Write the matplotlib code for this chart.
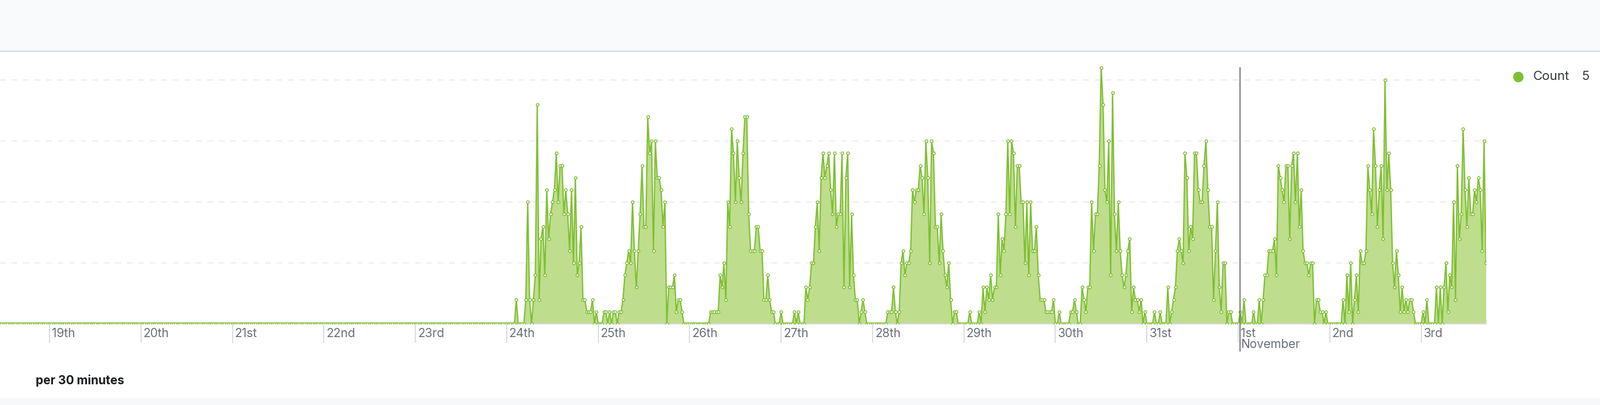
import datetime as dt
import matplotlib
matplotlib.use("Agg")
import matplotlib.pyplot as plt
import matplotlib.dates as mdates
import matplotlib.transforms as mtrans
from matplotlib.patches import Rectangle
from matplotlib.lines import Line2D

# ---- data (counts per 30 minutes) ----
start_time = dt.datetime(2023, 10, 18, 11, 0)
leading_zeros = [0] * 266
d24 = [0,0,0,0,0,2,0,0,0,0,2,10,2,0,2,4,18,2,7,8,4,11,7,9,10,11,14,10,13,13,9,11,9,6,11,5,12,4,5,8,2,2,1,1,1,2,0,1]
d25 = [0,0,0,1,1,0,1,0,1,1,0,1,1,2,4,5,6,5,10,6,3,6,9,13,8,8,17,14,15,6,15,12,12,11,8,10,0,3,3,3,4,1,2,2,1,0,0,0]
d26 = [0,0,0,0,0,0,0,0,0,0,0,1,1,1,1,1,4,3,5,2,10,8,16,14,10,15,12,10,14,17,17,9,6,6,6,8,8,6,6,2,2,4,2,1,1,0,0,0]
d27 = [1,0,0,0,0,0,0,1,0,1,0,0,0,3,2,3,5,5,8,10,6,12,14,12,13,14,11,9,14,8,9,9,14,3,12,14,3,9,4,2,2,0,1,2,1,0,0,0]
d28 = [0,0,0,0,0,0,0,0,1,1,1,3,1,0,1,5,6,4,5,5,6,11,10,11,11,13,12,9,15,12,5,15,14,8,8,5,9,6,4,3,5,2,0,1,1,0,0,0]
d29 = [0,0,0,1,0,0,0,0,1,0,3,1,3,2,4,2,3,3,9,4,7,6,9,15,9,15,14,8,13,13,10,10,5,10,4,10,6,6,8,4,2,2,2,1,1,1,1,2]
d30 = [0,0,1,0,0,0,0,0,1,1,2,1,0,0,3,2,1,3,3,10,6,9,9,13,21,18,11,10,15,4,19,9,6,10,6,4,3,4,6,7,1,3,2,2,1,2,0,1]
d31 = [0,0,0,0,1,0,0,1,0,0,0,3,0,1,2,3,6,7,6,5,14,12,6,8,7,14,14,11,10,10,13,15,11,8,8,2,6,10,3,1,5,5,0,1,1,0,0,0]
nov1 = [0,1,0,2,0,0,0,0,1,0,0,2,0,2,4,4,6,6,6,7,4,13,12,11,10,13,13,7,13,14,10,14,8,11,6,5,5,4,5,5,0,2,2,1,1,0,1,0]
nov2 = [0,0,0,0,0,0,0,2,0,4,1,5,0,2,4,1,6,5,5,6,13,11,9,16,13,8,11,13,7,20,11,14,11,5,3,6,4,1,3,1,2,1,2,2,1,0,0,0]
nov3 = [0,1,0,2,0,0,0,0,3,0,3,0,3,5,1,4,3,10,2,13,7,9,16,11,8,12,9,9,11,10,12,11,6,15,5]
series_name = "Count"
legend_value = "5"
cursor_time = dt.datetime(2023, 11, 1, 0, 30)
interval_label = "per 30 minutes"

values = leading_zeros + d24 + d25 + d26 + d27 + d28 + d29 + d30 + d31 + nov1 + nov2 + nov3
times = [start_time + dt.timedelta(minutes=30 * i) for i in range(len(values))]

W, H = 2778, 704
fig = plt.figure(figsize=(W / 100, H / 100), dpi=100)
fig.patch.set_facecolor("white")

# top band and bottom strip
fig.patches.append(Rectangle((0, 1 - 89 / H), 1, 89 / H, transform=fig.transFigure,
                             facecolor="#f9fafb", edgecolor="none", zorder=0))
fig.lines.append(Line2D([0, 1], [1 - 89 / H, 1 - 89 / H], transform=fig.transFigure,
                        color="#d3d7e0", lw=1.5))
fig.patches.append(Rectangle((0, 0), 1, 12 / H, transform=fig.transFigure,
                             facecolor="#f7f8fa", edgecolor="none", zorder=0))

base_y = 563
top_y = 97
ax = fig.add_axes([0, 1 - base_y / H, 2580 / W, (base_y - top_y) / H])
ax.set_facecolor("none")

green = "#7fbf33"
ax.fill_between(times, values, 0, color="#bedd8d", lw=0, zorder=2)
ax.plot(times, values, color=green, lw=1.6, marker="o", ms=3.4,
        mfc="white", mec=green, mew=1.1, zorder=3)

ax.set_xlim(times[0], times[-1])
ax.set_ylim(0, 22)
ax.set_yticks([5, 10, 15, 20])
ax.yaxis.grid(True, color="#e9eaee", ls=(0, (6, 6)), lw=1.2)
ax.tick_params(axis="y", length=0, labelleft=False)
for s in ["top", "right", "left"]:
    ax.spines[s].set_visible(False)
ax.spines["bottom"].set_color("#d8dbe2")
ax.spines["bottom"].set_linewidth(1.5)

def day_fmt(x, pos=None):
    d = mdates.num2date(x)
    n = d.day
    suf = "th" if 10 <= n % 100 <= 20 else {1: "st", 2: "nd", 3: "rd"}.get(n % 10, "th")
    lab = f"{n}{suf}"
    if n == 1:
        lab += "\n" + d.strftime("%B")
    return lab

ax.xaxis.set_major_locator(mdates.DayLocator())
ax.xaxis.set_major_formatter(plt.FuncFormatter(day_fmt))
ax.tick_params(axis="x", direction="out", length=24, width=1.2, color="#d3d6dd",
               labelsize=15, labelcolor="#69707d", pad=-19)
offset = mtrans.ScaledTranslation(4 / 100, 0, fig.dpi_scale_trans)
for lab in ax.get_xticklabels():
    lab.set_horizontalalignment("left")
    lab.set_verticalalignment("top")
    lab.set_transform(lab.get_transform() + offset)
    lab.set_fontfamily("Inter")
    lab.set_linespacing(0.95)

# cursor line
cur = ax.axvline(cursor_time, color="#7a7a7a", lw=1.5, clip_on=False, zorder=4)
cur.set_ydata([-47 / 466, (563 - 118) / 466])

# legend
fig.text(2636 / W, 1 - 133 / H, "●", color=green, fontsize=17, ha="center", va="center")
fig.text(2662 / W, 1 - 133 / H, series_name, color="#343741", fontsize=16, ha="left", va="center",
         family="Inter")
fig.text(2760 / W, 1 - 133 / H, legend_value, color="#343741", fontsize=16, ha="right", va="center",
         family="Inter")

fig.text(62 / W, 1 - 662 / H, interval_label, color="#1a1c21", fontsize=15, fontweight="bold",
         ha="left", va="center", family="Inter")

fig.savefig("out.png", dpi=100)
